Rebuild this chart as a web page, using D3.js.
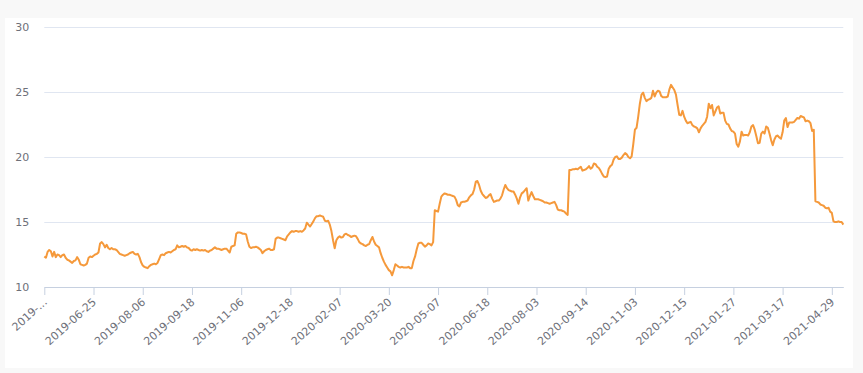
<!DOCTYPE html>
<html>
<head>
<meta charset="utf-8">
<script src="https://cdn.jsdelivr.net/npm/d3@7"></script>
<style>
  body { margin: 0; background: #f8f8f8; }
  svg { display: block; }
  .tick text { font-family: "DejaVu Sans", Verdana, sans-serif; font-size: 11px; fill: #6e7079; }
</style>
</head>
<body>
<svg id="chart"></svg>
<script>
/*
 * Daily closing price line, category axis of trading days
 */

// first and last trading day of the series
var firstDay = "2019-05-13";
var lastDay = "2021-05-13";

// weekdays the exchange was closed
var holidays = [
  "2019-06-07", "2019-09-13", "2019-10-01", "2019-10-02", "2019-10-03", "2019-10-04", "2019-10-07",
  "2020-01-01", "2020-01-24", "2020-01-27", "2020-01-28", "2020-01-29", "2020-01-30", "2020-01-31",
  "2020-04-06", "2020-05-01", "2020-05-04", "2020-05-05", "2020-06-25", "2020-06-26",
  "2020-10-01", "2020-10-02", "2020-10-05", "2020-10-06", "2020-10-07", "2020-10-08",
  "2021-01-01", "2021-02-11", "2021-02-12", "2021-02-15", "2021-02-16", "2021-02-17",
  "2021-04-05", "2021-05-03", "2021-05-04", "2021-05-05"
];

// closing prices, one per trading day
var prices = [
  12.35, 12.25, 12.7, 12.85, 12.75, 12.35, 12.7, 12.3, 12.5, 12.45,
  12.3, 12.45, 12.5, 12.25, 12.1, 12.05, 11.95, 11.85, 12.0, 12.05,
  12.3, 12.1, 11.75, 11.7, 11.65, 11.7, 11.8, 12.25, 12.35, 12.3,
  12.4, 12.5, 12.55, 12.65, 13.35, 13.45, 13.3, 13.05, 13.25, 13.0,
  12.9, 13.0, 12.9, 12.9, 12.85, 12.7, 12.55, 12.5, 12.45, 12.4,
  12.45, 12.5, 12.6, 12.65, 12.7, 12.55, 12.5, 12.55, 12.3, 11.9,
  11.65, 11.55, 11.5, 11.45, 11.6, 11.7, 11.75, 11.8, 11.75, 11.85,
  12.15, 12.45, 12.5, 12.45, 12.6, 12.65, 12.7, 12.65, 12.75, 12.85,
  12.9, 13.2, 13.05, 13.1, 13.15, 13.1, 13.15, 13.05, 13.0, 12.85,
  12.8, 12.9, 12.85, 12.9, 12.85, 12.8, 12.85, 12.8, 12.85, 12.75,
  12.7, 12.8, 12.85, 12.95, 13.05, 12.95, 12.95, 12.9, 12.85, 12.9,
  12.95, 12.95, 12.8, 12.65, 13.1, 13.15, 13.2, 14.1, 14.2, 14.2,
  14.15, 14.1, 14.1, 14.05, 13.5, 13.1, 13.0, 13.05, 13.05, 13.1,
  13.05, 12.95, 12.85, 12.6, 12.75, 12.85, 12.9, 12.95, 12.85, 12.85,
  12.9, 13.7, 13.8, 13.8, 13.75, 13.7, 13.65, 13.6, 13.9, 14.05,
  14.2, 14.3, 14.25, 14.3, 14.3, 14.25, 14.3, 14.25, 14.35, 14.5,
  14.95, 14.8, 14.65, 14.85, 15.05, 15.3, 15.45, 15.45, 15.5, 15.45,
  15.4, 15.1, 15.05, 15.1, 14.8, 14.3, 13.6, 12.98, 13.6, 13.8,
  13.9, 13.8, 13.85, 14.05, 14.1, 14.0, 13.95, 13.85, 13.9, 13.95,
  13.9, 13.7, 13.45, 13.35, 13.3, 13.2, 13.15, 13.25, 13.3, 13.6,
  13.85, 13.5, 13.25, 13.15, 13.05, 12.6, 12.25, 11.95, 11.7, 11.5,
  11.3, 11.2, 10.9, 11.3, 11.75, 11.65, 11.55, 11.5, 11.55, 11.5,
  11.5, 11.5, 11.55, 11.45, 11.45, 12.0, 12.35, 12.9, 13.35, 13.4,
  13.4, 13.25, 13.1, 13.2, 13.35, 13.3, 13.2, 13.45, 15.9, 15.85,
  15.8, 16.4, 16.95, 17.1, 17.2, 17.15, 17.1, 17.1, 17.05, 17.0,
  16.95, 16.7, 16.3, 16.2, 16.5, 16.55, 16.55, 16.6, 16.65, 16.9,
  17.05, 17.15, 17.5, 18.1, 18.15, 17.85, 17.4, 17.15, 17.0, 16.85,
  16.9, 17.05, 17.15, 16.8, 16.55, 16.6, 16.65, 16.65, 16.8, 17.05,
  17.5, 17.85, 17.6, 17.45, 17.4, 17.35, 17.35, 17.1, 16.8, 16.4,
  16.9, 17.2, 17.3, 17.45, 17.6, 16.65, 17.0, 17.3, 17.0, 16.75,
  16.75, 16.75, 16.7, 16.65, 16.6, 16.5, 16.5, 16.45, 16.4, 16.45,
  16.5, 16.55, 16.3, 15.95, 15.9, 15.9, 15.85, 15.8, 15.65, 15.55,
  19.0, 19.0, 19.05, 19.05, 19.1, 19.05, 19.15, 19.25, 18.95, 19.0,
  19.05, 19.15, 19.3, 19.1, 19.2, 19.5, 19.45, 19.25, 19.15, 18.95,
  18.7, 18.5, 18.45, 18.5, 19.1, 19.3, 19.4, 19.8, 20.0, 20.05,
  19.85, 19.85, 19.95, 20.15, 20.3, 20.2, 20.0, 19.9, 20.05, 21.0,
  22.1, 22.25, 23.1, 24.1, 24.8, 24.95, 24.55, 24.3, 24.4, 24.45,
  24.55, 25.1, 24.65, 24.95, 25.1, 25.05, 24.7, 24.6, 24.6, 24.6,
  24.65, 25.2, 25.55, 25.35, 25.15, 24.8, 24.0, 23.25, 23.2, 23.55,
  23.1, 22.8, 22.6, 22.65, 22.7, 22.45, 22.35, 22.3, 22.2, 21.9,
  22.2, 22.4, 22.55, 22.7, 23.1, 24.1, 23.75, 24.0, 23.2, 23.5,
  23.8, 23.9, 23.35, 23.4, 23.4, 22.8, 22.55, 22.5, 22.2, 22.0,
  21.95, 21.8, 21.0, 20.8, 21.2, 21.95, 21.65, 21.7, 21.7, 21.65,
  21.9, 22.35, 22.45, 22.1, 21.6, 21.05, 21.1, 21.8, 21.95, 21.8,
  22.35, 22.25, 21.8, 21.3, 20.9, 21.35, 21.6, 21.65, 21.5, 21.4,
  21.9, 22.8, 23.0, 22.3, 22.65, 22.65, 22.65, 22.7, 22.85, 23.0,
  22.95, 23.15, 23.1, 23.05, 22.75, 22.8, 22.75, 22.6, 22.0, 22.1,
  16.6, 16.55, 16.5, 16.35, 16.3, 16.25, 16.1, 16.05, 16.1, 15.8,
  15.7, 15.05, 15.0, 15.0, 15.05, 15.0, 15.0, 14.8
];

var yTicks = [10, 15, 20, 25, 30];
var labelEvery = 30;

var width = 863, height = 373;
var panel = { x: 5, y: 18, w: 848, h: 350 };
var plot = { left: 44.3, right: 843.3, top: 27, bottom: 287 };

// build trading day list from weekdays minus holidays
var fmt = d3.utcFormat("%Y-%m-%d");
var closedDays = new Set(holidays);
var days = d3.utcDays(new Date(firstDay), d3.utcDay.offset(new Date(lastDay), 1))
  .filter(function(d){ return d.getUTCDay() != 0 && d.getUTCDay() != 6; })
  .map(fmt)
  .filter(function(s){ return !closedDays.has(s); });

if (days.length != prices.length) console.log("day count " + days.length + " vs " + prices.length);

var data = days.map(function(d, i){ return { day: d, price: prices[i] }; })
  .filter(function(d){ return d.price != null; });

var svg = d3.select("#chart").attr("width", width).attr("height", height);

svg.append("rect").attr("width", width).attr("height", height).style("fill", "#f8f8f8");
svg.append("rect").attr("x", panel.x).attr("y", panel.y).attr("width", panel.w).attr("height", panel.h).style("fill", "#fff");

var x = d3.scalePoint().domain(data.map(function(d){ return d.day; })).range([plot.left, plot.right]);
var y = d3.scaleLinear().domain([10, 30]).range([plot.bottom, plot.top]);

// y axis: grid lines and labels only
var yAxis = svg.append("g")
  .attr("transform", "translate(" + plot.left + ",0)")
  .call(d3.axisLeft(y).tickValues(yTicks).tickSize(-(plot.right - plot.left)).tickPadding(15));
yAxis.select(".domain").remove();
yAxis.selectAll(".tick line").style("stroke", "#e0e6f1");
yAxis.selectAll(".tick").filter(function(d){ return d == 10; }).select("line").remove();

// x axis
var tickDays = x.domain().filter(function(d, i){ return i % labelEvery == 0; });
var xAxis = svg.append("g")
  .attr("transform", "translate(0," + plot.bottom + ")")
  .call(d3.axisBottom(x).tickValues(tickDays).tickSize(8).tickSizeOuter(0)
    .tickFormat(function(d, i){ return i == 0 ? d.slice(0, 5) + "..." : d; }));
xAxis.select(".domain").style("stroke", "#c6d0e0");
xAxis.selectAll(".tick line").style("stroke", "#c6d0e0");
xAxis.selectAll(".tick text")
  .attr("dy", null).attr("y", 0)
  .attr("text-anchor", "end")
  .attr("transform", "translate(3,16) rotate(-42)");

// price line
var line = d3.line()
  .x(function(d){ return x(d.day); })
  .y(function(d){ return y(d.price); });

svg.append("path").datum(data)
  .attr("d", line)
  .style("fill", "none")
  .style("stroke", "#f5993b")
  .style("stroke-width", 2)
  .style("stroke-linejoin", "round");
</script>
</body>
</html>
